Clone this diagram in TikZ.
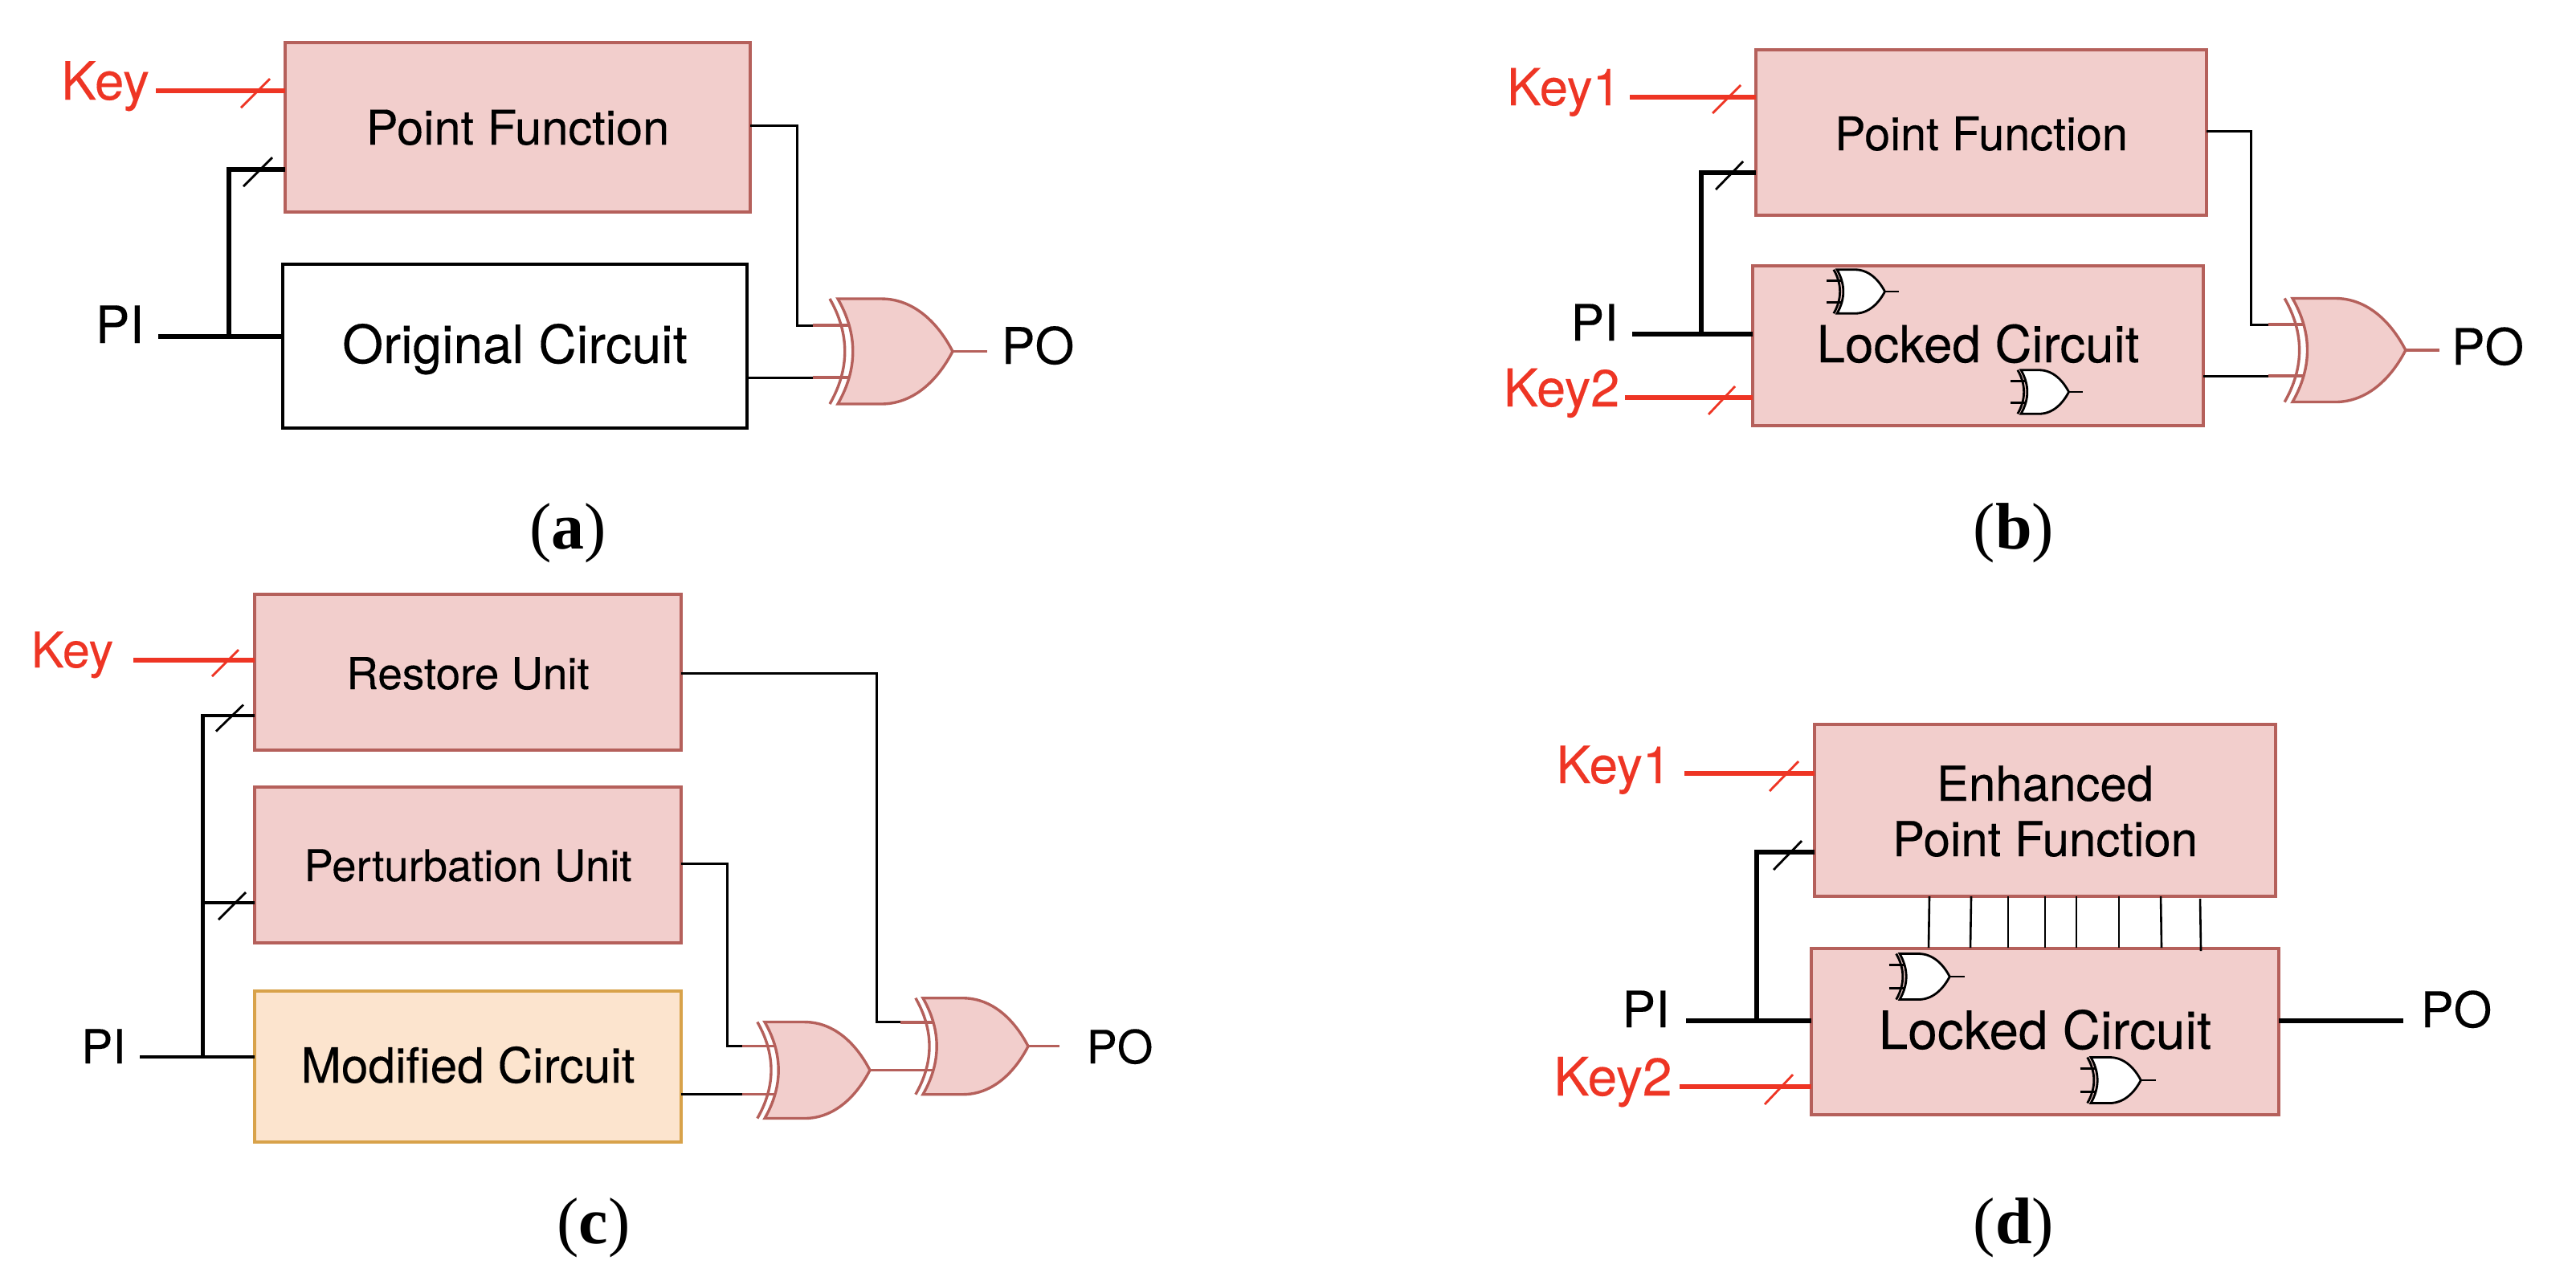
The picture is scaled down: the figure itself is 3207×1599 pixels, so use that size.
\documentclass[tikz,border=0pt]{standalone}
\usepackage{fontspec}
\setmainfont{TeX Gyre Heros}[FakeBold=0.2]
\newfontfamily\capfont{Liberation Serif}
\definecolor{rfill}{HTML}{F2CECC}
\definecolor{rline}{HTML}{B5605B}
\definecolor{pfill}{HTML}{FCE4CE}
\definecolor{pline}{HTML}{D8A24A}
\definecolor{keyred}{HTML}{EE3524}
\newcommand{\fsz}[2]{\fontsize{#1pt}{#2pt}\selectfont}
% \bx{name}{style}{x1}{y1}{x2}{y2}{font size pt}{text height pt}{text}
\newcommand{\bx}[9]{%
  \pgfmathsetlengthmacro{\bxw}{(#5-#3)*0.25pt}%
  \pgfmathsetlengthmacro{\bxh}{(#6-#4)*0.25pt}%
  \pgfmathsetmacro{\bxx}{(#3+#5)/2}%
  \pgfmathsetmacro{\bxy}{(#4+#6)/2}%
  \node[#2,minimum width=\bxw,minimum height=\bxh,font=\fsz{#7}{17.25},text height=#8pt,text depth=0pt] (#1) at (\bxx,\bxy) {#9};}
\newcommand{\gatepath}[2]{%
  \path[draw=#2,fill=#1] (0,-65.5) -- (54,-65.5) .. controls (95,-65.5) and (125,-35) .. (143,0)
     .. controls (125,35) and (95,65.5) .. (54,65.5) -- (0,65.5)
     .. controls (25,22) and (25,-22) .. (0,-65.5) -- cycle;
  \draw[#2] (-10,65.5) .. controls (15,22) and (15,-22) .. (-10,-65.5);
  \draw[#2] (-31,-32.5) -- (14,-32.5);
  \draw[#2] (-31,32.5) -- (14,32.5);
  \draw[#2] (143,0) -- (186,0);
  \coordinate (-a) at (-31,-32.5);
  \coordinate (-b) at (-31,32.5);
  \coordinate (-o) at (186,0);
  \coordinate (-t) at (143,0);}
\tikzset{
  x=0.25pt,y=-0.25pt,
  rgate/.pic={\begin{scope}[line width=0.85pt]\gatepath{rfill}{rline}\end{scope}},
  wgate/.pic={\begin{scope}[line width=0.7pt]\gatepath{white}{black}\end{scope}},
  redbox/.style={draw=rline,fill=rfill,line width=0.9pt,inner sep=0pt,outer sep=0pt,align=center},
  peachbox/.style={draw=pline,fill=pfill,line width=0.9pt,inner sep=0pt,outer sep=0pt,align=center},
  whitebox/.style={draw=black,fill=white,line width=0.8pt,inner sep=0pt,outer sep=0pt,align=center},
  txt/.style={inner sep=0pt,outer sep=0pt,anchor=base},
  keytxt/.style={txt,text=keyred},
  keyw/.style={draw=keyred,line width=#1},
  keyw/.default=1.5pt,
  blk/.style={draw=black,line width=#1},
  blk/.default=1.4pt,
  thinw/.style={draw=black,line width=0.75pt,line join=miter},
  slashk/.style={draw=black,line width=0.7pt},
  slashr/.style={draw=keyred,line width=0.7pt},
  capt/.style={txt,font=\capfont\fsz{20.5}{24}}
}
\begin{document}
\begin{tikzpicture}
\useasboundingbox (0,0) rectangle (3207,1599);
\fill[white] (0,0) rectangle (3207,1599);

%% ---------- (a)
\bx{apf}{redbox}{355}{53}{934}{264}{14.9}{10.75}{Point Function}
\bx{aoc}{whitebox}{352}{329}{930}{533}{16.4}{10.5}{Original Circuit}
\pic (ag) at (1043,437.5) {rgate};
\node[keytxt,font=\fsz{16.4}{18}] (akey) at (131,124) {Key};
\node[txt,font=\fsz{16}{18}] (api) at (149,427) {PI};
\node[txt,font=\fsz{15.7}{18}] (apo) at (1292,453) {PO};
\coordinate (akeys) at (194,113);
\coordinate (apis) at (197,419);
\coordinate (ajn) at (285,419);
\coordinate (atop) at (285,211);
\coordinate (as1a) at (300,134); \coordinate (as1b) at (336,98);
\coordinate (as2a) at (303,232); \coordinate (as2b) at (339,196);
\coordinate (avt) at (992,156);
\draw[keyw] (akeys) -- (akeys -| apf.west);
\draw[slashr] (as1a) -- (as1b);
\draw[blk] (apis) -- (apis -| aoc.west);
\draw[blk] (ajn) -- (atop) -- (atop -| apf.west);
\draw[slashk] (as2a) -- (as2b);
\draw[thinw] (avt -| apf.east) -- (avt) -- (avt |- ag-a) -- (ag-a);
\draw[thinw] (ag-b -| aoc.east) -- (ag-b);
\node[capt] (capa) at (707,683) {(\textbf{a})};

%% ---------- (b)
\bx{bpf}{redbox}{2186}{62}{2747}{268}{14.4}{11}{Point Function}
\bx{blc}{redbox}{2182}{331}{2743}{530}{15.9}{10.3}{Locked Circuit}
\pic (bg) [scale=0.985] at (2854,436) {rgate};
\pic (bs1) [scale=0.416] at (2287,363) {wgate};
\pic (bs2) [scale=0.416] at (2516,488) {wgate};
\node[keytxt,font=\fsz{15.9}{18}] (bk1) at (1947,131) {Key1};
\node[keytxt,font=\fsz{16.2}{18}] (bk2) at (1944,506) {Key2};
\node[txt,font=\fsz{15.6}{18}] (bpi) at (1985,424) {PI};
\node[txt,font=\fsz{15.6}{18}] (bpo) at (3097,454) {PO};
\coordinate (bk1s) at (2029,120.5);
\coordinate (bk2s) at (2023,495);
\coordinate (bpis) at (2032,416);
\coordinate (bjn) at (2118,416);
\coordinate (btop) at (2118,215);
\coordinate (bvt) at (2802,163);
\draw[keyw] (bk1s) -- (bk1s -| bpf.west);
\draw[keyw] (bk2s) -- (bk2s -| blc.west);
\draw[slashr] (2132,141) coordinate (bsa) -- (2167,106) coordinate (bsb);
\draw[slashr] (2127,516) coordinate (bsc) -- (2160,481) coordinate (bsd);
\draw[blk] (bpis) -- (bpis -| blc.west);
\draw[blk] (bjn) -- (btop) -- (btop -| bpf.west);
\draw[slashk] (2136,236) coordinate (bse) -- (2170,201) coordinate (bsf);
\draw[thinw] (bvt -| bpf.east) -- (bvt) -- (bvt |- bg-a) -- (bg-a);
\draw[thinw] (bg-b -| blc.east) -- (bg-b);
\node[capt] (capb) at (2507,683) {(\textbf{b})};

%% ---------- (c)
\bx{cru}{redbox}{317}{740}{848}{934}{13.7}{10.5}{Restore Unit}
\bx{cpu}{redbox}{317}{980}{848}{1174}{13.6}{10}{Perturbation Unit}
\bx{cmc}{peachbox}{317}{1234}{848}{1422}{15.1}{10}{Modified Circuit}
\pic (cg1) [scale=0.916] at (952,1332.5) {rgate};
\pic (cg2) [scale=0.916] at (1149,1302.7) {rgate};
\node[keytxt,font=\fsz{15.3}{18}] (ckey) at (90,831) {Key};
\node[txt,font=\fsz{14.6}{18}] (cpi) at (129,1324) {PI};
\node[txt,font=\fsz{14.3}{18}] (cpo) at (1394,1324) {PO};
\coordinate (ckeys) at (166,822);
\coordinate (cpis) at (174,1316);
\coordinate (cjn) at (252.5,1316);
\coordinate (ctop) at (252.5,891);
\coordinate (cmid) at (252.5,1124);
\coordinate (cv1) at (1091,838.5);
\coordinate (cv2) at (905,1075);
\draw[keyw=1.3pt] (ckeys) -- (ckeys -| cru.west);
\draw[slashr] (264,842) coordinate (csa) -- (297,809) coordinate (csb);
\draw[blk=1.1pt] (cpis) -- (cpis -| cmc.west);
\draw[blk=1.15pt] (cjn) -- (ctop) -- (ctop -| cru.west);
\draw[blk=1.15pt] (cmid) -- (cmid -| cpu.west);
\draw[slashk] (269,910.5) coordinate (csc) -- (303,877.5) coordinate (csd);
\draw[slashk] (272,1145) coordinate (cse) -- (306,1111) coordinate (csf);
\draw[thinw] (cv1 -| cru.east) -- (cv1) -- (cv1 |- cg2-a) -- (cg2-a);
\draw[thinw] (cv2 -| cpu.east) -- (cv2) -- (cv2 |- cg1-a) -- (cg1-a);
\draw[thinw] (cg1-b -| cmc.east) -- (cg1-b);
\draw[draw=rline,line width=0.85pt] (cg1-o) -- (cg1-o -| cg2-b);
\draw[draw=rline,line width=0.85pt] (cg1-o -| cg2-b) -- ++(28.5,0);
\node[capt] (capc) at (739,1548) {(\textbf{c})};

%% ---------- (d)
\bx{dpf}{redbox}{2259}{902}{2833}{1116}{15}{28.5}{Enhanced\\Point Function}
\bx{dlc}{redbox}{2255}{1181}{2837}{1388}{16.4}{10.75}{Locked Circuit}
\pic (ds1) [scale=0.435] at (2365,1216) {wgate};
\pic (ds2) [scale=0.435] at (2603,1345) {wgate};
\node[keytxt,font=\fsz{16}{18}] (dk1) at (2009,975) {Key1};
\node[keytxt,font=\fsz{16.5}{18}] (dk2) at (2008,1364) {Key2};
\node[txt,font=\fsz{15.6}{18}] (dpi) at (2049,1279) {PI};
\node[txt,font=\fsz{15.3}{18}] (dpo) at (3058,1279) {PO};
\coordinate (dk1s) at (2097,963);
\coordinate (dk2s) at (2091,1353);
\coordinate (dpis) at (2099,1271);
\coordinate (dpoe) at (2992,1271);
\coordinate (djn) at (2187,1271);
\coordinate (dtop) at (2187,1061);
\draw[keyw] (dk1s) -- (dk1s -| dpf.west);
\draw[keyw] (dk2s) -- (dk2s -| dlc.west);
\draw[slashr] (2203,985) coordinate (dsa) -- (2239,948) coordinate (dsb);
\draw[slashr] (2197,1375) coordinate (dsc) -- (2232,1338) coordinate (dsd);
\draw[blk] (dpis) -- (dpis -| dlc.west);
\draw[blk] (dpoe -| dlc.east) -- (dpoe);
\draw[blk] (djn) -- (dtop) -- (dtop -| dpf.west);
\draw[slashk] (2208,1083) coordinate (dse) -- (2243,1047) coordinate (dsf);
\foreach \xa/\xb/\ya/\yb [count=\i] in {2402/2401/1116/1180,2454/2453/1116/1180,2500/2500/1116/1180,2546/2546/1116/1180,2585/2585/1116/1180,2638/2638/1116/1180,2690/2691/1116/1180,2739/2740/1119/1184}{
  \coordinate (dwa\i) at (\xa,\ya);
  \coordinate (dwb\i) at (\xb,\yb);
  \draw[draw=black,line width=0.65pt] (dwa\i) -- (dwb\i);
}
\node[capt] (capd) at (2507,1548) {(\textbf{d})};
\end{tikzpicture}
\end{document}
